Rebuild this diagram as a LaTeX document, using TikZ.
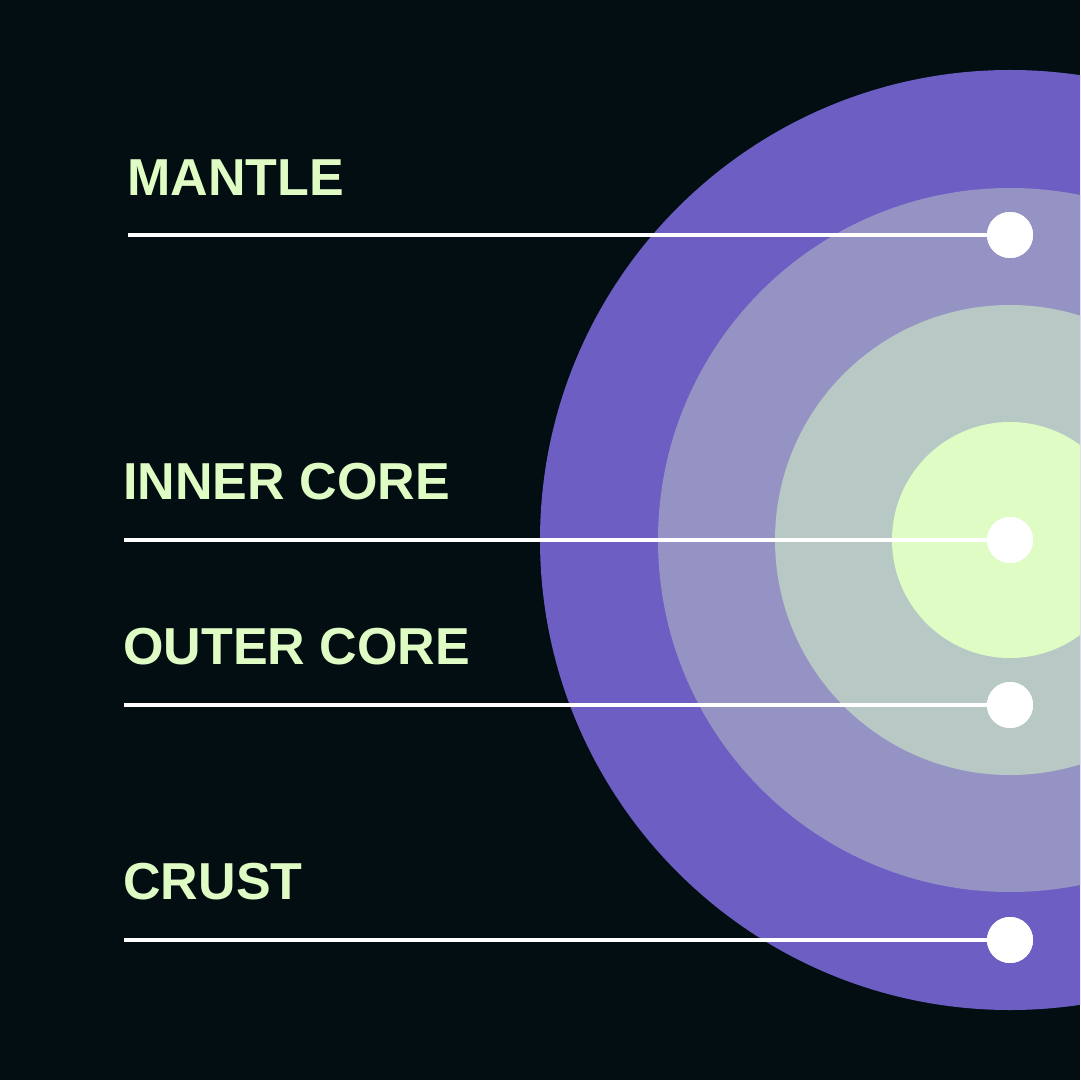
\documentclass[tikz,border=0pt]{standalone}
\usepackage{fontspec}
\setmainfont{Liberation Sans}
\definecolor{bg}{HTML}{020E12}
\definecolor{cA}{HTML}{6C5EC2}
\definecolor{cB}{HTML}{9593C4}
\definecolor{cC}{HTML}{B8C8C5}
\definecolor{cD}{HTML}{E0FCC5}
\tikzset{lbl/.style={anchor=base west,inner sep=0,text=cD,font=\fontsize{26}{30}\selectfont\bfseries},
dot/.style={circle,fill=white,minimum size=23pt,inner sep=0},
lead/.style={white,line width=2pt}}
\begin{document}
\begin{tikzpicture}[x=0.5pt,y=-0.5pt]
\fill[bg] (0,0) rectangle (1080,1080);
\useasboundingbox (0,0) rectangle (1080,1080);
\begin{scope}
\clip (0,0) rectangle (1080,1080);
\fill[cA] (1010,540) circle[radius=470];
\fill[cB] (1010,540) circle[radius=352];
\fill[cC] (1010,540) circle[radius=235];
\fill[cD] (1010,540) circle[radius=118];
\end{scope}
\node[lbl] (t1) at (127,196) {MANTLE};
\node[lbl] (t2) at (123,499) {INNER CORE};
\node[lbl] (t3) at (123,664) {OUTER CORE};
\node[lbl] (t4) at (123,899) {CRUST};
\coordinate (s1) at (128,235);
\coordinate (s2) at (124,540);
\coordinate (s3) at (124,705);
\coordinate (s4) at (124,940);
\node[dot] (d1) at (1010,235) {};
\node[dot] (d2) at (1010,540) {};
\node[dot] (d3) at (1010,705) {};
\node[dot] (d4) at (1010,940) {};
\draw[lead] (s1) -- (d1.center);
\draw[lead] (s2) -- (d2.center);
\draw[lead] (s3) -- (d3.center);
\draw[lead] (s4) -- (d4.center);
\foreach \i in {1,2,3,4} \node[dot] at (d\i) {};
\end{tikzpicture}
\end{document}
